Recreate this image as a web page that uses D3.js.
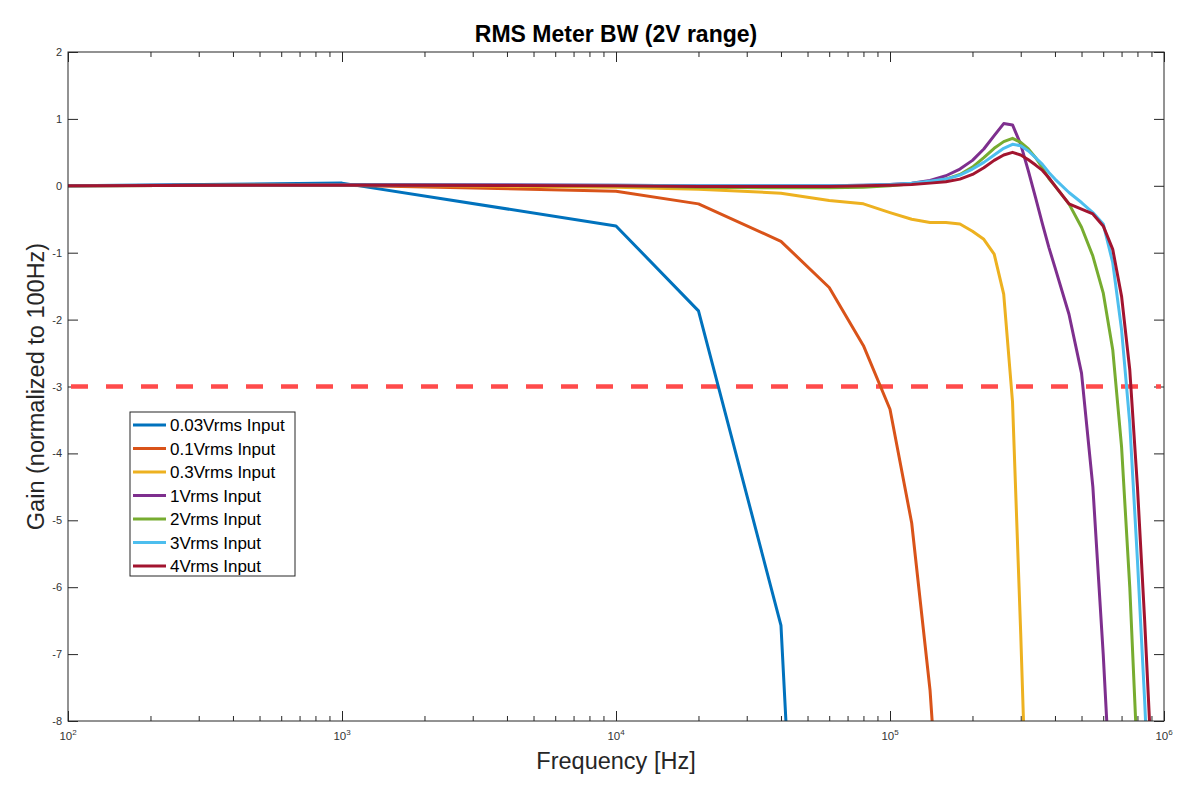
<!DOCTYPE html>
<html><head><meta charset="utf-8">
<script src="https://cdn.jsdelivr.net/npm/d3@7"></script>
<style>
html,body{margin:0;padding:0;background:#fff;}
svg{display:block;font-family:"Liberation Sans",Arial,Helvetica,sans-serif;}
</style></head>
<body>
<svg id="chart" width="1200" height="794"></svg>
<script>
// ---- data ----
const freqs = [100, 1e3, 1e4, 2e4, 4e4, 6e4, 8e4, 1e5, 1.2e5, 1.4e5, 1.6e5, 1.8e5, 2e5, 2.2e5, 2.4e5, 2.6e5, 2.8e5, 3e5, 3.2e5, 3.4e5, 3.6e5, 3.8e5, 4e5, 4.5e5, 5e5, 5.5e5, 6e5, 6.5e5, 7e5, 7.5e5, 8e5, 8.5e5, 9e5];
const gain003 = [0, 0.04, -0.6, -1.87, -6.57, -20.5, null, null, null, null, null, null, null, null, null, null, null, null, null, null, null, null, null, null, null, null, null, null, null, null, null, null, null];
const gain01  = [0, 0.01, -0.08, -0.27, -0.83, -1.52, -2.39, -3.34, -5.04, -7.54, -11, null, null, null, null, null, null, null, null, null, null, null, null, null, null, null, null, null, null, null, null, null, null];
const gain03  = [0, 0.01, -0.02, -0.05, -0.11, -0.22, -0.27, -0.4, -0.5, -0.55, -0.55, -0.57, -0.68, -0.8, -1.02, -1.62, -3.23, -6.7, -10.3, null, null, null, null, null, null, null, null, null, null, null, null, null, null];
const gain1   = [0, 0.02, 0.01, 0, 0, 0, 0.01, 0.02, 0.04, 0.08, 0.15, 0.25, 0.38, 0.55, 0.75, 0.93, 0.91, 0.62, 0.22, -0.18, -0.57, -0.92, -1.22, -1.92, -2.8, -4.5, -7.0, -9.7, null, null, null, null, null];
const gain2   = [0, 0.01, 0, -0.02, -0.03, -0.03, -0.02, 0, 0.03, 0.06, 0.1, 0.17, 0.28, 0.42, 0.56, 0.66, 0.71, 0.65, 0.55, 0.42, 0.27, 0.11, 0, -0.27, -0.62, -1.05, -1.6, -2.45, -3.9, -6.0, -8.6, null, null];
const gain3   = [0, 0.01, 0.01, 0, 0, 0, 0.01, 0.02, 0.04, 0.07, 0.1, 0.16, 0.25, 0.35, 0.46, 0.56, 0.62, 0.6, 0.52, 0.42, 0.32, 0.2, 0.1, -0.1, -0.25, -0.4, -0.57, -1.15, -2.15, -3.55, -5.6, -7.7, -10];
const gain4   = [0, 0.01, 0, -0.01, -0.01, -0.01, 0, 0.01, 0.02, 0.04, 0.06, 0.1, 0.17, 0.27, 0.38, 0.46, 0.5, 0.46, 0.39, 0.31, 0.23, 0.12, 0, -0.27, -0.35, -0.42, -0.6, -0.95, -1.65, -2.75, -4.5, -6.5, -8.6];
const seriesNames = ["0.03Vrms Input", "0.1Vrms Input", "0.3Vrms Input", "1Vrms Input", "2Vrms Input", "3Vrms Input", "4Vrms Input"];
const seriesColors = ["#0072BD", "#D95319", "#EDB120", "#7E2F8E", "#77AC30", "#4DBEEE", "#A2142F"];
const seriesValues = [gain003, gain01, gain03, gain1, gain2, gain3, gain4];
const thresholdDb = -3;
const yTicks = [-8, -7, -6, -5, -4, -3, -2, -1, 0, 1, 2];
const xMajor = [1e2, 1e3, 1e4, 1e5, 1e6];
const xExponents = [2, 3, 4, 5, 6];
const titleText = "RMS Meter BW (2V range)";
const xLabel = "Frequency [Hz]";
const yLabel = "Gain (normalized to 100Hz)";

// ---- layout ----
const L = 68, R = 1164, T = 52, B = 721;
const svg = d3.select("#chart");
const x = d3.scaleLog().domain([1e2, 1e6]).range([L, R]);
const y = d3.scaleLinear().domain([-8, 2]).range([B, T]);

const xMinor = [];
for (let d = 2; d < 6; d++) for (let m = 2; m <= 9; m++) xMinor.push(m * Math.pow(10, d));

svg.append("defs").append("clipPath").attr("id", "clip")
  .append("rect").attr("x", L).attr("y", T).attr("width", R - L).attr("height", B - T);

svg.append("rect").attr("x", L).attr("y", T).attr("width", R - L).attr("height", B - T).attr("fill", "#fff");

const axisColor = "#262626";
function styleAxis(g) {
  g.select(".domain").remove();
  g.selectAll(".tick line").attr("stroke", axisColor).attr("stroke-width", 1);
  g.selectAll(".tick text").attr("fill", "#333").attr("font-size", 11).attr("font-family", "Liberation Sans, Arial, sans-serif");
}
// bottom
svg.append("g").attr("transform", `translate(0,${B})`)
  .call(d3.axisBottom(x).tickValues(xMajor).tickSize(-10).tickFormat("")).call(styleAxis);
svg.append("g").attr("transform", `translate(0,${B})`)
  .call(d3.axisBottom(x).tickValues(xMinor).tickSize(-5).tickFormat("")).call(styleAxis);
// top
svg.append("g").attr("transform", `translate(0,${T})`)
  .call(d3.axisTop(x).tickValues(xMajor).tickSize(-10).tickFormat("")).call(styleAxis);
svg.append("g").attr("transform", `translate(0,${T})`)
  .call(d3.axisTop(x).tickValues(xMinor).tickSize(-5).tickFormat("")).call(styleAxis);
// left
svg.append("g").attr("transform", `translate(${L},0)`)
  .call(d3.axisLeft(y).tickValues(yTicks).tickSize(-10).tickPadding(6).tickFormat(d => String(d))).call(styleAxis);
// right
svg.append("g").attr("transform", `translate(${R},0)`)
  .call(d3.axisRight(y).tickValues(yTicks).tickSize(-10).tickFormat("")).call(styleAxis);

// x tick labels with superscripts
const xl = svg.append("g");
xMajor.forEach((v, i) => {
  const t = xl.append("text").attr("x", x(v)).attr("y", 740).attr("text-anchor", "middle")
    .attr("fill", "#333").attr("font-size", 11.5);
  t.append("tspan").text("10");
  t.append("tspan").attr("dy", -5).attr("font-size", 8).text(xExponents[i]);
});

// threshold line
svg.append("line").attr("x1", L + 3).attr("x2", R - 3).attr("y1", y(thresholdDb)).attr("y2", y(thresholdDb))
  .attr("stroke", "#ff4b4b").attr("stroke-width", 4.5).attr("stroke-dasharray", "17,18");

// lines
const line = d3.line().defined(d => d[1] !== null).x(d => x(d[0])).y(d => y(d[1]));
const plot = svg.append("g").attr("clip-path", "url(#clip)");
seriesValues.forEach((vals, i) => {
  const pts = freqs.map((f, j) => [f, vals[j]]);
  plot.append("path").datum(pts).attr("d", line).attr("fill", "none")
    .attr("stroke", seriesColors[i]).attr("stroke-width", 3).attr("stroke-linejoin", "round");
});

// box
svg.append("rect").attr("x", L).attr("y", T).attr("width", R - L).attr("height", B - T)
  .attr("fill", "none").attr("stroke", axisColor).attr("stroke-width", 1);

// title & labels
svg.append("text").attr("x", (L + R) / 2).attr("y", 42).attr("text-anchor", "middle")
  .attr("font-weight", "bold").attr("font-size", 23).attr("fill", "#000").text(titleText);
svg.append("text").attr("x", (L + R) / 2).attr("y", 769).attr("text-anchor", "middle")
  .attr("font-size", 23.5).attr("fill", "#262626").text(xLabel);
svg.append("text").attr("transform", `translate(44,${(T + B) / 2}) rotate(-90)`).attr("text-anchor", "middle")
  .attr("font-size", 23.5).attr("fill", "#262626").text(yLabel);

// legend
const lg = svg.append("g");
lg.append("rect").attr("x", 130).attr("y", 412).attr("width", 165).attr("height", 164)
  .attr("fill", "#fff").attr("stroke", axisColor).attr("stroke-width", 1);
seriesNames.forEach((n, i) => {
  const yy = 425 + i * 23.5;
  lg.append("line").attr("x1", 133).attr("x2", 166).attr("y1", yy).attr("y2", yy)
    .attr("stroke", seriesColors[i]).attr("stroke-width", 3);
  lg.append("text").attr("x", 170).attr("y", yy + 6).attr("font-size", 17).attr("fill", "#000").text(n);
});
</script>
</body></html>
